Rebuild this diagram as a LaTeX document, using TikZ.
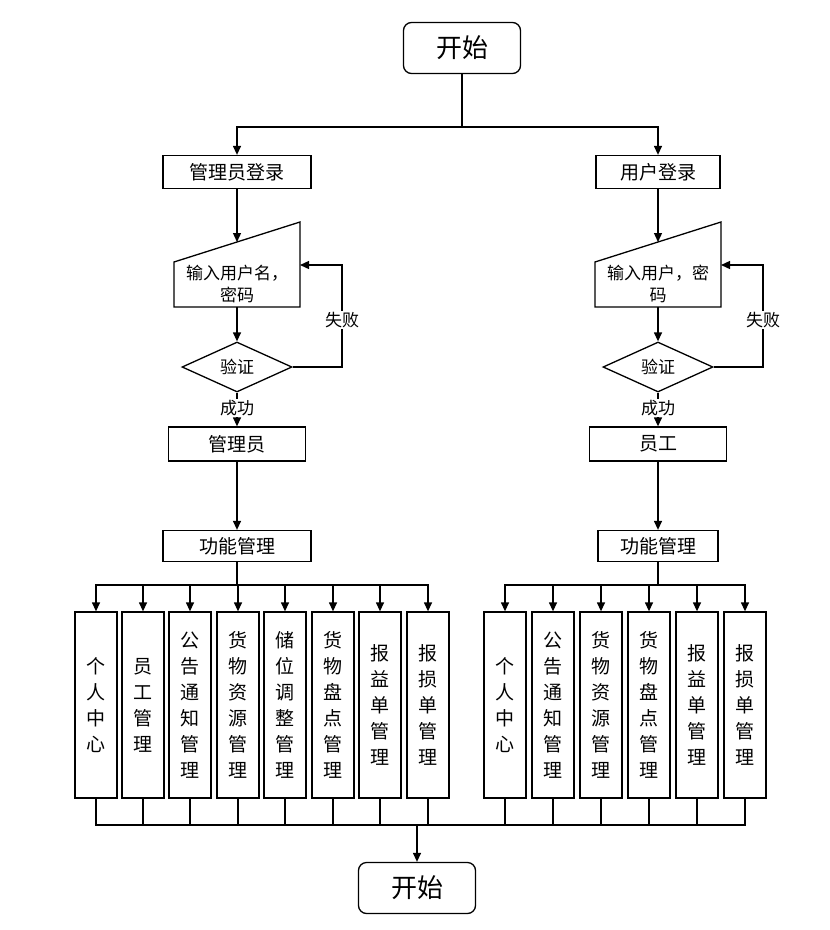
\documentclass[tikz,border=0pt]{standalone}
\usepackage{fontspec}
\newfontfamily\cjk{Noto Sans CJK SC}
\usetikzlibrary{arrows.meta,shapes.geometric}
\begin{document}
\begin{tikzpicture}[x=1pt,y=-1pt,line width=1.3pt,font=\cjk,
 arr/.style={-{Triangle[length=9pt,width=8pt]}},
 box/.style={draw,minimum height=33pt,font=\cjk\fontsize{19}{22}\selectfont,inner sep=0pt},
 term/.style={draw,rounded corners=8pt,minimum width=117pt,minimum height=51pt,font=\cjk\fontsize{26}{30}\selectfont},
 dia/.style={draw,diamond,aspect=2.2,minimum width=110pt,minimum height=50pt,inner sep=0pt,font=\cjk\fontsize{17}{20}\selectfont},
 mod/.style={draw,minimum width=42pt,minimum height=186pt,inner sep=0pt,align=center,font=\cjk\fontsize{19}{26}\selectfont},
 lab/.style={font=\cjk\fontsize{17}{20}\selectfont,fill=white,inner sep=1pt}]
\useasboundingbox (0,0) rectangle (830,930);
\node[term] (s) at (462,48) {开始};
\node[box,minimum width=148pt] (l1) at (237,172) {管理员登录};
\node[box,minimum width=124pt] (r1) at (658,172) {用户登录};
\coordinate (sj) at (462,127);
\draw (s.south) -- (sj);
\draw[arr] (sj) -| (l1.north);
\draw[arr] (sj) -| (r1.north);
% manual inputs
\foreach \n/\cx/\t in {li/237/{输入用户名，\\密码},ri/658/{输入用户，密\\码}}{
  \coordinate (\n tl) at (\cx-63,262);
  \coordinate (\n tr) at (\cx+63,222);
  \coordinate (\n br) at (\cx+63,307);
  \coordinate (\n bl) at (\cx-63,307);
  \draw (\n tl) -- (\n tr) -- (\n br) -- (\n bl) -- cycle;
  \node[align=center,font=\cjk\fontsize{17}{22}\selectfont] (\n) at (\cx,284) {\t};
  \coordinate (\n top) at (\cx,\cx*0+242-0.317*0);
}
\coordinate (litop) at (237,242);
\coordinate (ritop) at (658,242);
\coordinate (libot) at (237,307);
\coordinate (ribot) at (658,307);
\draw[arr] (l1.south) -- (litop);
\draw[arr] (r1.south) -- (ritop);
\node[dia] (ld) at (237,367) {验证};
\node[dia] (rd) at (658,367) {验证};
\draw[arr] (libot) -- (ld.north);
\draw[arr] (ribot) -- (rd.north);
\coordinate (lf) at (342,265);
\coordinate (rf) at (763,265);
\coordinate (lfe) at (300,265);
\coordinate (rfe) at (721,265);
\draw[arr] (ld.east) -| (lf) -- (lfe);
\draw[arr] (rd.east) -| (rf) -- (rfe);
\node[lab] at (342,320) {失败};
\node[lab] at (763,320) {失败};
\node[box,minimum width=137pt,minimum height=34pt] (l2) at (237,444) {管理员};
\node[box,minimum width=137pt,minimum height=34pt] (r2) at (658,444) {员工};
\draw[arr] (ld.south) -- (l2.north) node[lab,pos=0.45] {成功};
\draw[arr] (rd.south) -- (r2.north) node[lab,pos=0.45] {成功};
\node[box,minimum width=148pt,minimum height=31pt] (l3) at (237,546) {功能管理};
\node[box,minimum width=120pt,minimum height=31pt] (r3) at (658,546) {功能管理};
\draw[arr] (l2.south) -- (l3.north);
\draw[arr] (r2.south) -- (r3.north);
\coordinate (lb) at (237,585);
\coordinate (rb) at (658,585);
\draw (l3.south) -- (lb);
\draw (r3.south) -- (rb);
\node[term,minimum width=117pt] (e) at (417,888) {开始};
\coordinate (ej) at (417,825);
\draw[arr] (ej) -- (e.north);
\foreach \i/\x/\t in {1/96/{个\\人\\中\\心},2/143/{员\\工\\管\\理},3/190/{公\\告\\通\\知\\管\\理},4/238/{货\\物\\资\\源\\管\\理},5/285/{储\\位\\调\\整\\管\\理},6/333/{货\\物\\盘\\点\\管\\理},7/380/{报\\益\\单\\管\\理},8/428/{报\\损\\单\\管\\理}}{
  \node[mod] (m\i) at (\x,705) {\t};
  \draw[arr] (lb) -- (\x,585) -- (m\i.north);
  \draw (m\i.south) -- (\x,825) -- (ej);
}
\foreach \i/\x/\t in {1/505/{个\\人\\中\\心},2/553/{公\\告\\通\\知\\管\\理},3/601/{货\\物\\资\\源\\管\\理},4/649/{货\\物\\盘\\点\\管\\理},5/697/{报\\益\\单\\管\\理},6/745/{报\\损\\单\\管\\理}}{
  \node[mod] (n\i) at (\x,705) {\t};
  \draw[arr] (rb) -- (\x,585) -- (n\i.north);
  \draw (n\i.south) -- (\x,825) -- (ej);
}
\end{tikzpicture}
\end{document}
